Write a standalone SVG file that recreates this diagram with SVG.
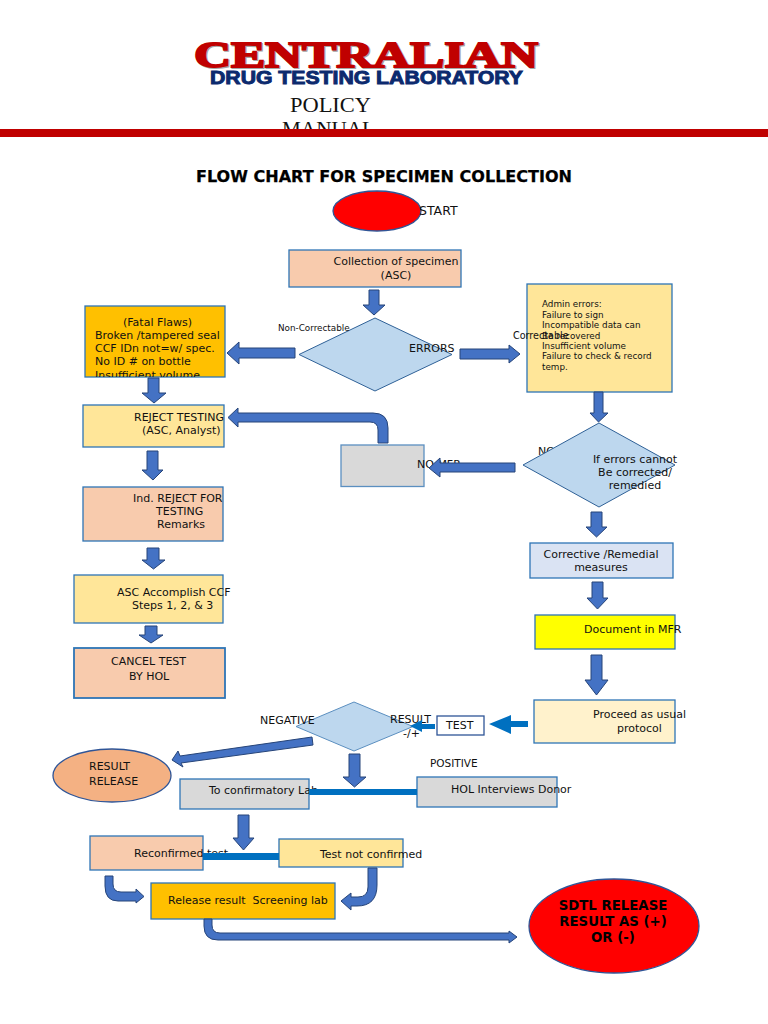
<svg xmlns="http://www.w3.org/2000/svg" width="768" height="1024" viewBox="0 0 768 1024">
<style>
text{font-family:"DejaVu Sans",Verdana,sans-serif;font-size:11px;fill:#111}
.n{stroke:#2e75b6;stroke-width:1.300}
.p{fill:#f8cbad}.y{fill:#ffe699}.o{fill:#ffc000}.g{fill:#d9d9d9}.b{fill:#bdd7ee;stroke:#2f6197}
.a{fill:#4472c4;stroke:#264478;stroke-width:1}
.c{fill:#0070c0}
.m{text-anchor:middle}
.sm{font-size:8.800px}
.bd{font-size:13.300px;font-weight:bold;fill:#000}
.se{font-family:"Liberation Serif",serif;font-size:22px}
.logo{font-family:"Liberation Serif",serif;font-size:36px;font-weight:bold}
</style>
<defs><clipPath id="fatalclip"><rect x="85" y="306" width="140" height="71"/></clipPath></defs>
<rect width="768" height="1024" fill="#fff"/>
<g id="header">
<text class="logo" x="195" y="68" textLength="344" lengthAdjust="spacingAndGlyphs" style="fill:#a6a6a6;stroke:#a6a6a6;stroke-width:2">CENTRALIAN</text>
<text class="logo" x="194" y="66.500" textLength="344" lengthAdjust="spacingAndGlyphs" style="fill:#c00000;stroke:#c00000;stroke-width:1.800">CENTRALIAN</text>
<text x="210" y="84" textLength="313" lengthAdjust="spacingAndGlyphs" style="font-family:'Liberation Sans',sans-serif;font-size:17.500px;font-weight:bold;fill:#0c2a6e;stroke:#0c2a6e;stroke-width:.9">DRUG TESTING LABORATORY</text>
<text class="se" x="290" y="112" textLength="81" lengthAdjust="spacingAndGlyphs">POLICY</text>
<text class="se" x="282" y="136" textLength="93" lengthAdjust="spacingAndGlyphs">MANUAL</text>
<rect x="0" y="129" width="768" height="8" fill="#c00000"/>
<text x="196" y="182" textLength="376" lengthAdjust="spacingAndGlyphs" style="font-size:15.500px;font-weight:bold;fill:#000;stroke:#000;stroke-width:.25">FLOW CHART FOR SPECIMEN COLLECTION</text>
</g>
<g id="start"><ellipse class="n" cx="377" cy="211" rx="44" ry="20" fill="#f00" style="stroke:#2f5597"/><text x="419" y="215" style="font-size:12.500px">START</text></g>
<g id="collection"><rect class="n p" x="289" y="250" width="172" height="37"/><text class="m" x="396" y="265">Collection of specimen</text><text class="m" x="396" y="279">(ASC)</text></g>
<g id="errors"><path class="b" d="M299 354.500L375 318 452 354.500 375 391Z"/><text x="409" y="352">ERRORS</text></g>
<g id="label-noncorrectable"><text class="sm" x="278" y="331">Non-Correctable</text></g>
<g id="fatal"><rect class="n o" x="85" y="306" width="140" height="71"/><g clip-path="url(#fatalclip)"><text x="123" y="326">(Fatal Flaws)</text><text x="95" y="339">Broken /tampered seal</text><text x="95" y="352">CCF IDn not=w/ spec.</text><text x="95" y="365">No ID # on bottle</text><text x="95" y="379">Insufficient volume</text></g></g>
<g id="admin"><rect class="n y" x="527" y="284" width="145" height="108"/><text class="sm" x="542" y="307">Admin errors:</text><text class="sm" x="542" y="318">Failure to sign</text><text class="sm" x="542" y="328">Incompatible data can</text><text class="sm" x="542" y="339">Be recovered</text><text class="sm" x="542" y="349">Insufficient volume</text><text class="sm" x="542" y="359">Failure to check &amp; record</text><text class="sm" x="542" y="370">temp.</text></g>
<g id="label-correctable"><text x="513" y="339" style="font-size:9.600px">Correctable</text></g>
<g id="label-no"><text x="538" y="455">NO</text></g>
<g id="diamond2"><path class="b" d="M523 465L599 423 675 465 599 507Z"/><text class="m" x="635" y="463">If errors cannot</text><text class="m" x="635" y="476">Be corrected/</text><text class="m" x="635" y="489">remedied</text></g>
<g id="nomfr"><rect class="n g" x="341" y="445" width="83" height="41.500" style="stroke:#5b8fc0"/><text x="417" y="468">NO MFR</text></g>
<g id="reject"><rect class="n y" x="83" y="405" width="141" height="42"/><text x="134" y="421">REJECT TESTING</text><text x="142" y="434">(ASC, Analyst)</text></g>
<g id="ind"><rect class="n p" x="83" y="487" width="140" height="54"/><text x="133" y="502">Ind. REJECT FOR</text><text x="156" y="515">TESTING</text><text x="157" y="528">Remarks</text></g>
<g id="accomplish"><rect class="n y" x="74" y="575" width="149" height="48"/><text x="117" y="596">ASC Accomplish CCF</text><text x="132" y="609">Steps 1, 2, &amp; 3</text></g>
<g id="cancel"><rect class="n p" x="74" y="648" width="151" height="50" style="stroke-width:1.800"/><text x="111" y="665">CANCEL TEST</text><text x="129" y="680">BY HOL</text></g>
<g id="corrective"><rect class="n" x="530" y="543" width="143" height="35" fill="#dae3f3"/><text class="m" x="601" y="558">Corrective /Remedial</text><text class="m" x="601" y="571">measures</text></g>
<g id="document"><rect class="n" x="535" y="615" width="140" height="34" fill="#ff0"/><text x="584" y="633">Document in MFR</text></g>
<g id="proceed"><rect class="n" x="534" y="700" width="141" height="43" fill="#fff2cc"/><text x="593" y="718">Proceed as usual</text><text x="617" y="732">protocol</text></g>
<g id="test"><rect x="437" y="716" width="47" height="19" fill="#fff" stroke="#2f5597" stroke-width="1.300"/><text x="446" y="729">TEST</text></g>
<g id="result"><path class="b" d="M296 726.500L354 702 413 726.500 354 751Z" style="stroke:#5b8fc0"/><text x="390" y="723">RESULT</text><text x="403" y="737">-/+</text></g>
<g id="label-negative"><text x="260" y="724">NEGATIVE</text></g>
<g id="label-positive"><text x="430" y="767" style="font-size:10.500px">POSITIVE</text></g>
<g id="release-oval"><ellipse class="n" cx="112" cy="775.500" rx="59" ry="26.500" fill="#f4b183" style="stroke:#2f5597"/><text x="89" y="770">RESULT</text><text x="89" y="785">RELEASE</text></g>
<g id="confirmatory"><rect class="n g" x="180" y="779" width="129" height="30"/><text x="209" y="794">To confirmatory Lab</text></g>
<g id="interviews"><rect class="n g" x="417" y="777" width="140" height="30"/><text x="451" y="793">HOL Interviews Donor</text></g>
<g id="reconfirmed"><rect class="n p" x="90" y="836" width="113" height="34"/><text x="134" y="857">Reconfirmed test</text></g>
<g id="notconfirmed"><rect class="n y" x="279" y="839" width="124" height="28"/><text x="320" y="858">Test not confirmed</text></g>
<g id="screening"><rect class="n o" x="151" y="883" width="184" height="36"/><text x="168" y="904" xml:space="preserve">Release result  Screening lab</text></g>
<g id="sdtl"><ellipse class="n" cx="614" cy="926" rx="85" ry="47" fill="#f00" style="stroke:#2f5597"/><text class="m bd" x="613" y="910">SDTL RELEASE</text><text class="m bd" x="613" y="926">RESULT AS (+)</text><text class="m bd" x="613" y="942">OR (-)</text></g>
<g id="connectors">
<path class="a" d="M369 290H379V305H385L374 315 363 305H369Z"/>
<path class="a" d="M295 348V358H239V364L227 353 239 342V348Z"/>
<path class="a" d="M460 349H509V345L520 354 509 363V359H460Z"/>
<path class="a" d="M594 392H603V413H608L598.500 422 590 413H594Z"/>
<path class="a" d="M515 463V472H440V477L429 468 440 458V463Z"/>
<path class="a" d="M388 443V428Q388 413 373 413H238V408L228 417.500 238 427V422H370Q378 422 378 430V443Z"/>
<path class="a" d="M148 378H159V393H166L154 403 142 393H148Z"/>
<path class="a" d="M147 451H158V470H163L153 480 142 470H147Z"/>
<path class="a" d="M147 548H159V560H165L153.500 569 142 560H147Z"/>
<path class="a" d="M145 626H157V635H163L151 643 139 635H145Z"/>
<path class="a" d="M591 512H602V527H607L596.500 537 586 527H591Z"/>
<path class="a" d="M592 582H603V598H608L597.500 609 587 598H592Z"/>
<path class="a" d="M591 655H602V680H608L596.500 695 585 680H591Z"/>
<path class="c" d="M528 721V727H511V734L489 724 511 715V721Z"/>
<path class="c" d="M435 724V729H422V732L410 726 422 720V724Z"/>
<path class="a" d="M312 737L313 745 181 763 183 767 172 760 178 751 180 756Z"/>
<path class="a" d="M349 754H360V777H366L354.500 787 343 777H349Z"/>
<rect class="c" x="309" y="789" width="108" height="6"/>
<path class="a" d="M238 815H249V838H254L243.500 850 233 838H238Z"/>
<rect class="c" x="203" y="853" width="76" height="7"/>
<path class="a" d="M105 876H113V884Q113 892 121 892H136V889L144 896.500 136 903V901H118Q105 901 105 886Z"/>
<path class="a" d="M377 868V885Q377 906 357 906H351V910L341 901 351 893V897H358Q368 897 368 887V868Z"/>
<path class="a" d="M204 919H212V925Q212 933 220 933H509V931L517 937 509 943V940H218Q204 940 204 926Z"/>
</g>
</svg>
